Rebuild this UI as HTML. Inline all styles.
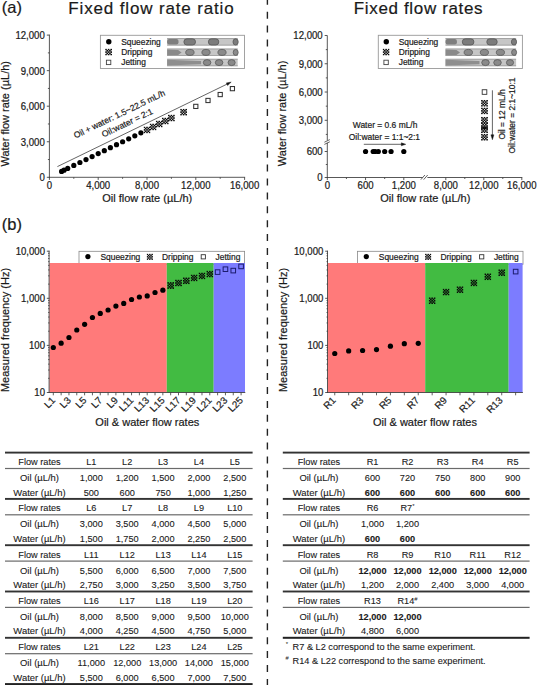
<!DOCTYPE html>
<html><head><meta charset="utf-8"><style>
html,body{margin:0;padding:0;background:#fff;}
body{width:537px;height:685px;overflow:hidden;}
svg{display:block;}
text{stroke:#1a1a1a;stroke-width:0.2px;}
.big{stroke-width:0.2px;}
.tb{stroke-width:0.1px;}
</style></head><body>
<svg width="537" height="685" viewBox="0 0 537 685" font-family='"Liberation Sans", sans-serif'>
<defs>
<symbol id="drip" viewBox="-0.2 -0.2 5.4 5.4"><g fill="#0a0a0a"><rect x="-0.12" y="-0.12" width="1.24" height="1.24"/><rect x="-0.12" y="1.88" width="1.24" height="1.24"/><rect x="-0.12" y="3.88" width="1.24" height="1.24"/><rect x="0.88" y="0.88" width="1.24" height="1.24"/><rect x="0.88" y="2.88" width="1.24" height="1.24"/><rect x="1.88" y="-0.12" width="1.24" height="1.24"/><rect x="1.88" y="1.88" width="1.24" height="1.24"/><rect x="1.88" y="3.88" width="1.24" height="1.24"/><rect x="2.88" y="0.88" width="1.24" height="1.24"/><rect x="2.88" y="2.88" width="1.24" height="1.24"/><rect x="3.88" y="-0.12" width="1.24" height="1.24"/><rect x="3.88" y="1.88" width="1.24" height="1.24"/><rect x="3.88" y="3.88" width="1.24" height="1.24"/></g></symbol>
</defs>
<rect width="537" height="685" fill="#fff"/>
<line x1="267.4" y1="-2.2" x2="267.4" y2="685" stroke="#222" stroke-width="1.4" stroke-dasharray="7 6.9"/>
<text x="1.80" y="13.30" font-size="16.5" text-anchor="start" fill="#1a1a1a" class="big">(a)</text>
<text x="1.80" y="230.30" font-size="16.5" text-anchor="start" fill="#1a1a1a" class="big">(b)</text>
<text x="68.30" y="14.20" font-size="17" text-anchor="start" fill="#1a1a1a" letter-spacing="0.85" class="big">Fixed flow rate ratio</text>
<text x="353.80" y="14.20" font-size="17" text-anchor="start" fill="#1a1a1a" letter-spacing="0.65" class="big">Fixed flow rates</text>
<line x1="49.40" y1="177.80" x2="49.40" y2="34.60" stroke="#3a3a3a" stroke-width="0.85"/>
<line x1="48.90" y1="177.30" x2="245.10" y2="177.30" stroke="#3a3a3a" stroke-width="0.85"/>
<line x1="46.80" y1="177.30" x2="49.40" y2="177.30" stroke="#3a3a3a" stroke-width="0.85"/>
<text x="0" y="0" font-size="9.6" text-anchor="end" fill="#1a1a1a" transform="translate(44.80 181.15) scale(1 1.07)">0</text>
<line x1="46.80" y1="141.75" x2="49.40" y2="141.75" stroke="#3a3a3a" stroke-width="0.85"/>
<text x="0" y="0" font-size="9.6" text-anchor="end" fill="#1a1a1a" transform="translate(44.80 145.60) scale(1 1.07)">3,000</text>
<line x1="46.80" y1="106.20" x2="49.40" y2="106.20" stroke="#3a3a3a" stroke-width="0.85"/>
<text x="0" y="0" font-size="9.6" text-anchor="end" fill="#1a1a1a" transform="translate(44.80 110.05) scale(1 1.07)">6,000</text>
<line x1="46.80" y1="70.65" x2="49.40" y2="70.65" stroke="#3a3a3a" stroke-width="0.85"/>
<text x="0" y="0" font-size="9.6" text-anchor="end" fill="#1a1a1a" transform="translate(44.80 74.50) scale(1 1.07)">9,000</text>
<line x1="46.80" y1="35.10" x2="49.40" y2="35.10" stroke="#3a3a3a" stroke-width="0.85"/>
<text x="0" y="0" font-size="9.6" text-anchor="end" fill="#1a1a1a" transform="translate(44.80 38.95) scale(1 1.07)">12,000</text>
<line x1="47.90" y1="159.53" x2="49.40" y2="159.53" stroke="#3a3a3a" stroke-width="0.85"/>
<line x1="47.90" y1="123.98" x2="49.40" y2="123.98" stroke="#3a3a3a" stroke-width="0.85"/>
<line x1="47.90" y1="88.43" x2="49.40" y2="88.43" stroke="#3a3a3a" stroke-width="0.85"/>
<line x1="47.90" y1="52.88" x2="49.40" y2="52.88" stroke="#3a3a3a" stroke-width="0.85"/>
<line x1="49.40" y1="177.30" x2="49.40" y2="179.90" stroke="#3a3a3a" stroke-width="0.85"/>
<text x="0" y="0" font-size="9.6" text-anchor="middle" fill="#1a1a1a" transform="translate(49.40 189.40) scale(1 1.07)">0</text>
<line x1="98.20" y1="177.30" x2="98.20" y2="179.90" stroke="#3a3a3a" stroke-width="0.85"/>
<text x="0" y="0" font-size="9.6" text-anchor="middle" fill="#1a1a1a" transform="translate(98.20 189.40) scale(1 1.07)">4,000</text>
<line x1="147.00" y1="177.30" x2="147.00" y2="179.90" stroke="#3a3a3a" stroke-width="0.85"/>
<text x="0" y="0" font-size="9.6" text-anchor="middle" fill="#1a1a1a" transform="translate(147.00 189.40) scale(1 1.07)">8,000</text>
<line x1="195.80" y1="177.30" x2="195.80" y2="179.90" stroke="#3a3a3a" stroke-width="0.85"/>
<text x="0" y="0" font-size="9.6" text-anchor="middle" fill="#1a1a1a" transform="translate(195.80 189.40) scale(1 1.07)">12,000</text>
<line x1="244.60" y1="177.30" x2="244.60" y2="179.90" stroke="#3a3a3a" stroke-width="0.85"/>
<text x="0" y="0" font-size="9.6" text-anchor="middle" fill="#1a1a1a" transform="translate(244.60 189.40) scale(1 1.07)">16,000</text>
<line x1="73.80" y1="177.30" x2="73.80" y2="178.80" stroke="#3a3a3a" stroke-width="0.85"/>
<line x1="122.60" y1="177.30" x2="122.60" y2="178.80" stroke="#3a3a3a" stroke-width="0.85"/>
<line x1="171.40" y1="177.30" x2="171.40" y2="178.80" stroke="#3a3a3a" stroke-width="0.85"/>
<line x1="220.20" y1="177.30" x2="220.20" y2="178.80" stroke="#3a3a3a" stroke-width="0.85"/>
<text x="147.20" y="202.00" font-size="11" text-anchor="middle" fill="#1a1a1a" >Oil flow rate (µL/h)</text>
<text x="8.70" y="113.80" font-size="11" text-anchor="middle" fill="#1a1a1a" transform="rotate(-90 8.7 113.8)">Water flow rate (µL/h)</text>
<line x1="57.4" y1="166.6" x2="227.5" y2="83.9" stroke="#222" stroke-width="0.7"/>
<path d="M231.2 82.1 L227.6 85.6 L226.3 82.9 Z" fill="#111" stroke="#111" stroke-width="0.4"/>
<text x="75.5" y="138.6" font-size="8.5" fill="#1a1a1a" transform="rotate(-25.8 75.5 138.6)">Oil + water: 1.5~22.5 mL/h</text>
<text x="103.5" y="137.6" font-size="8.6" fill="#1a1a1a" transform="rotate(-25.8 103.5 137.6)">Oil:water = 2:1</text>
<circle cx="61.60" cy="171.38" r="2.6" fill="#000"/>
<circle cx="64.04" cy="170.19" r="2.6" fill="#000"/>
<circle cx="67.70" cy="168.41" r="2.6" fill="#000"/>
<circle cx="73.80" cy="165.45" r="2.6" fill="#000"/>
<circle cx="79.90" cy="162.49" r="2.6" fill="#000"/>
<circle cx="86.00" cy="159.53" r="2.6" fill="#000"/>
<circle cx="92.10" cy="156.56" r="2.6" fill="#000"/>
<circle cx="98.20" cy="153.60" r="2.6" fill="#000"/>
<circle cx="104.30" cy="150.64" r="2.6" fill="#000"/>
<circle cx="110.40" cy="147.68" r="2.6" fill="#000"/>
<circle cx="116.50" cy="144.71" r="2.6" fill="#000"/>
<circle cx="122.60" cy="141.75" r="2.6" fill="#000"/>
<circle cx="128.70" cy="138.79" r="2.6" fill="#000"/>
<circle cx="134.80" cy="135.83" r="2.6" fill="#000"/>
<circle cx="140.90" cy="132.86" r="2.6" fill="#000"/>
<use href="#drip" x="143.50" y="126.40" width="7.0" height="7.0"/>
<use href="#drip" x="149.60" y="123.44" width="7.0" height="7.0"/>
<use href="#drip" x="155.70" y="120.48" width="7.0" height="7.0"/>
<use href="#drip" x="161.80" y="117.51" width="7.0" height="7.0"/>
<use href="#drip" x="167.90" y="114.55" width="7.0" height="7.0"/>
<use href="#drip" x="180.10" y="108.63" width="7.0" height="7.0"/>
<rect x="193.70" y="104.30" width="4.2" height="4.2" fill="none" stroke="#333" stroke-width="1.05"/>
<rect x="205.90" y="98.38" width="4.2" height="4.2" fill="none" stroke="#333" stroke-width="1.05"/>
<rect x="218.10" y="92.45" width="4.2" height="4.2" fill="none" stroke="#333" stroke-width="1.05"/>
<rect x="230.30" y="86.53" width="4.2" height="4.2" fill="none" stroke="#333" stroke-width="1.05"/>
<rect x="100.40" y="35.3" width="144.1" height="33.2" fill="#fff" stroke="#999" stroke-width="0.9"/>
<circle cx="108.80" cy="41.70" r="2.7" fill="#000"/>
<use href="#drip" x="105.10" y="48.60" width="7.0" height="7.0"/>
<rect x="106.40" y="60.20" width="4.4" height="4.4" fill="none" stroke="#444" stroke-width="0.9"/>
<text x="121.20" y="44.50" font-size="8.4" text-anchor="start" fill="#1a1a1a" >Squeezing</text>
<text x="121.20" y="54.50" font-size="8.4" text-anchor="start" fill="#1a1a1a" >Dripping</text>
<text x="121.20" y="64.50" font-size="8.4" text-anchor="start" fill="#1a1a1a" >Jetting</text>
<rect x="167.10" y="38.1" width="70.6" height="7.4" fill="#c6c6c6"/>
<rect x="167.10" y="38.1" width="70.6" height="0.8" fill="#9a9a9a"/>
<rect x="167.10" y="44.7" width="70.6" height="0.8" fill="#9a9a9a"/>
<rect x="167.10" y="39.1" width="11.4" height="5.4" rx="2" fill="#7e7e7e"/>
<rect x="183.90" y="38.80" width="11.60" height="6.2" rx="3" ry="3" fill="#7c7c7c" stroke="#555" stroke-width="0.8"/>
<rect x="208.40" y="38.80" width="10.40" height="6.2" rx="3" ry="3" fill="#7c7c7c" stroke="#555" stroke-width="0.8"/>
<rect x="233.00" y="38.80" width="5.20" height="6.2" rx="3" ry="3" fill="#7c7c7c" stroke="#555" stroke-width="0.8"/>
<rect x="167.10" y="48.6" width="70.6" height="7.4" fill="#c6c6c6"/>
<rect x="167.10" y="48.6" width="70.6" height="0.8" fill="#9a9a9a"/>
<rect x="167.10" y="55.2" width="70.6" height="0.8" fill="#9a9a9a"/>
<path d="M167.10 49.6 L178.10 49.9 L181.60 52.4 L178.10 54.9 L167.10 55.2 Z" fill="#8a8a8a"/>
<ellipse cx="189.90" cy="52.40" rx="4.2" ry="3.0" fill="#8a8a8a" stroke="#585858" stroke-width="0.8"/>
<ellipse cx="206.00" cy="52.40" rx="4.1" ry="3.0" fill="#8a8a8a" stroke="#585858" stroke-width="0.8"/>
<ellipse cx="222.00" cy="52.40" rx="4.1" ry="3.0" fill="#8a8a8a" stroke="#585858" stroke-width="0.8"/>
<ellipse cx="235.70" cy="52.40" rx="2.5" ry="3.0" fill="#8a8a8a" stroke="#585858" stroke-width="0.8"/>
<rect x="167.10" y="58.8" width="70.6" height="7.4" fill="#c6c6c6"/>
<rect x="167.10" y="58.8" width="70.6" height="0.8" fill="#9a9a9a"/>
<rect x="167.10" y="65.39999999999999" width="70.6" height="0.8" fill="#9a9a9a"/>
<path d="M167.10 59.8 L187.10 60.4 L201.10 61.0 L201.10 64.2 L187.10 64.8 L167.10 65.39999999999999 Z" fill="#8e8e8e"/>
<ellipse cx="207.10" cy="62.60" rx="3.8" ry="3.0" fill="#8a8a8a" stroke="#585858" stroke-width="0.8"/>
<ellipse cx="219.10" cy="62.60" rx="3.8" ry="3.0" fill="#8a8a8a" stroke="#585858" stroke-width="0.8"/>
<ellipse cx="231.60" cy="62.60" rx="3.6" ry="3.0" fill="#8a8a8a" stroke="#585858" stroke-width="0.8"/>
<rect x="378.30" y="35.3" width="144.1" height="33.2" fill="#fff" stroke="#999" stroke-width="0.9"/>
<circle cx="386.30" cy="41.70" r="2.7" fill="#000"/>
<use href="#drip" x="382.60" y="48.60" width="7.0" height="7.0"/>
<rect x="383.90" y="60.20" width="4.4" height="4.4" fill="none" stroke="#444" stroke-width="0.9"/>
<text x="398.70" y="44.50" font-size="8.4" text-anchor="start" fill="#1a1a1a" >Squeezing</text>
<text x="398.70" y="54.50" font-size="8.4" text-anchor="start" fill="#1a1a1a" >Dripping</text>
<text x="398.70" y="64.50" font-size="8.4" text-anchor="start" fill="#1a1a1a" >Jetting</text>
<rect x="445.50" y="38.1" width="70.6" height="7.4" fill="#c6c6c6"/>
<rect x="445.50" y="38.1" width="70.6" height="0.8" fill="#9a9a9a"/>
<rect x="445.50" y="44.7" width="70.6" height="0.8" fill="#9a9a9a"/>
<rect x="445.50" y="39.1" width="11.4" height="5.4" rx="2" fill="#7e7e7e"/>
<rect x="462.30" y="38.80" width="11.60" height="6.2" rx="3" ry="3" fill="#7c7c7c" stroke="#555" stroke-width="0.8"/>
<rect x="486.80" y="38.80" width="10.40" height="6.2" rx="3" ry="3" fill="#7c7c7c" stroke="#555" stroke-width="0.8"/>
<rect x="511.40" y="38.80" width="5.20" height="6.2" rx="3" ry="3" fill="#7c7c7c" stroke="#555" stroke-width="0.8"/>
<rect x="445.50" y="48.6" width="70.6" height="7.4" fill="#c6c6c6"/>
<rect x="445.50" y="48.6" width="70.6" height="0.8" fill="#9a9a9a"/>
<rect x="445.50" y="55.2" width="70.6" height="0.8" fill="#9a9a9a"/>
<path d="M445.50 49.6 L456.50 49.9 L460.00 52.4 L456.50 54.9 L445.50 55.2 Z" fill="#8a8a8a"/>
<ellipse cx="468.30" cy="52.40" rx="4.2" ry="3.0" fill="#8a8a8a" stroke="#585858" stroke-width="0.8"/>
<ellipse cx="484.40" cy="52.40" rx="4.1" ry="3.0" fill="#8a8a8a" stroke="#585858" stroke-width="0.8"/>
<ellipse cx="500.40" cy="52.40" rx="4.1" ry="3.0" fill="#8a8a8a" stroke="#585858" stroke-width="0.8"/>
<ellipse cx="514.10" cy="52.40" rx="2.5" ry="3.0" fill="#8a8a8a" stroke="#585858" stroke-width="0.8"/>
<rect x="445.50" y="58.8" width="70.6" height="7.4" fill="#c6c6c6"/>
<rect x="445.50" y="58.8" width="70.6" height="0.8" fill="#9a9a9a"/>
<rect x="445.50" y="65.39999999999999" width="70.6" height="0.8" fill="#9a9a9a"/>
<path d="M445.50 59.8 L465.50 60.4 L479.50 61.0 L479.50 64.2 L465.50 64.8 L445.50 65.39999999999999 Z" fill="#8e8e8e"/>
<ellipse cx="485.50" cy="62.60" rx="3.8" ry="3.0" fill="#8a8a8a" stroke="#585858" stroke-width="0.8"/>
<ellipse cx="497.50" cy="62.60" rx="3.8" ry="3.0" fill="#8a8a8a" stroke="#585858" stroke-width="0.8"/>
<ellipse cx="510.00" cy="62.60" rx="3.6" ry="3.0" fill="#8a8a8a" stroke="#585858" stroke-width="0.8"/>
<line x1="327.30" y1="178.00" x2="327.30" y2="142.80" stroke="#3a3a3a" stroke-width="0.85"/>
<line x1="327.30" y1="140.40" x2="327.30" y2="35.50" stroke="#3a3a3a" stroke-width="0.85"/>
<line x1="324.40" y1="142.20" x2="329.80" y2="139.60" stroke="#3a3a3a" stroke-width="0.8"/>
<line x1="324.40" y1="144.40" x2="329.80" y2="141.80" stroke="#3a3a3a" stroke-width="0.8"/>
<line x1="324.70" y1="177.50" x2="327.30" y2="177.50" stroke="#3a3a3a" stroke-width="0.85"/>
<text x="0" y="0" font-size="9.6" text-anchor="end" fill="#1a1a1a" transform="translate(322.70 181.35) scale(1 1.07)">0</text>
<line x1="324.70" y1="151.50" x2="327.30" y2="151.50" stroke="#3a3a3a" stroke-width="0.85"/>
<text x="0" y="0" font-size="9.6" text-anchor="end" fill="#1a1a1a" transform="translate(322.70 155.35) scale(1 1.07)">600</text>
<line x1="324.70" y1="120.30" x2="327.30" y2="120.30" stroke="#3a3a3a" stroke-width="0.85"/>
<text x="0" y="0" font-size="9.6" text-anchor="end" fill="#1a1a1a" transform="translate(322.70 124.15) scale(1 1.07)">3,000</text>
<line x1="324.70" y1="92.03" x2="327.30" y2="92.03" stroke="#3a3a3a" stroke-width="0.85"/>
<text x="0" y="0" font-size="9.6" text-anchor="end" fill="#1a1a1a" transform="translate(322.70 95.88) scale(1 1.07)">6,000</text>
<line x1="324.70" y1="63.76" x2="327.30" y2="63.76" stroke="#3a3a3a" stroke-width="0.85"/>
<text x="0" y="0" font-size="9.6" text-anchor="end" fill="#1a1a1a" transform="translate(322.70 67.61) scale(1 1.07)">9,000</text>
<line x1="324.70" y1="35.49" x2="327.30" y2="35.49" stroke="#3a3a3a" stroke-width="0.85"/>
<text x="0" y="0" font-size="9.6" text-anchor="end" fill="#1a1a1a" transform="translate(322.70 39.34) scale(1 1.07)">12,000</text>
<line x1="325.80" y1="164.50" x2="327.30" y2="164.50" stroke="#3a3a3a" stroke-width="0.85"/>
<line x1="325.80" y1="134.43" x2="327.30" y2="134.43" stroke="#3a3a3a" stroke-width="0.85"/>
<line x1="325.80" y1="106.17" x2="327.30" y2="106.17" stroke="#3a3a3a" stroke-width="0.85"/>
<line x1="325.80" y1="77.90" x2="327.30" y2="77.90" stroke="#3a3a3a" stroke-width="0.85"/>
<line x1="325.80" y1="49.63" x2="327.30" y2="49.63" stroke="#3a3a3a" stroke-width="0.85"/>
<line x1="326.80" y1="177.50" x2="422.60" y2="177.50" stroke="#3a3a3a" stroke-width="0.85"/>
<line x1="427.40" y1="177.50" x2="522.30" y2="177.50" stroke="#3a3a3a" stroke-width="0.85"/>
<line x1="420.90" y1="179.60" x2="424.90" y2="175.00" stroke="#3a3a3a" stroke-width="0.8"/>
<line x1="423.70" y1="179.60" x2="427.70" y2="175.00" stroke="#3a3a3a" stroke-width="0.8"/>
<line x1="327.30" y1="177.50" x2="327.30" y2="180.10" stroke="#3a3a3a" stroke-width="0.85"/>
<text x="0" y="0" font-size="9.6" text-anchor="middle" fill="#1a1a1a" transform="translate(327.30 189.40) scale(1 1.07)">0</text>
<line x1="365.55" y1="177.50" x2="365.55" y2="180.10" stroke="#3a3a3a" stroke-width="0.85"/>
<text x="0" y="0" font-size="9.6" text-anchor="middle" fill="#1a1a1a" transform="translate(365.55 189.40) scale(1 1.07)">600</text>
<line x1="403.80" y1="177.50" x2="403.80" y2="180.10" stroke="#3a3a3a" stroke-width="0.85"/>
<text x="0" y="0" font-size="9.6" text-anchor="middle" fill="#1a1a1a" transform="translate(403.80 189.40) scale(1 1.07)">1,200</text>
<line x1="445.80" y1="177.50" x2="445.80" y2="180.10" stroke="#3a3a3a" stroke-width="0.85"/>
<text x="0" y="0" font-size="9.6" text-anchor="middle" fill="#1a1a1a" transform="translate(445.80 189.40) scale(1 1.07)">8,000</text>
<line x1="483.80" y1="177.50" x2="483.80" y2="180.10" stroke="#3a3a3a" stroke-width="0.85"/>
<text x="0" y="0" font-size="9.6" text-anchor="middle" fill="#1a1a1a" transform="translate(483.80 189.40) scale(1 1.07)">12,000</text>
<line x1="521.80" y1="177.50" x2="521.80" y2="180.10" stroke="#3a3a3a" stroke-width="0.85"/>
<text x="0" y="0" font-size="9.6" text-anchor="middle" fill="#1a1a1a" transform="translate(521.80 189.40) scale(1 1.07)">16,000</text>
<line x1="346.43" y1="177.50" x2="346.43" y2="179.00" stroke="#3a3a3a" stroke-width="0.85"/>
<line x1="384.68" y1="177.50" x2="384.68" y2="179.00" stroke="#3a3a3a" stroke-width="0.85"/>
<line x1="464.80" y1="177.50" x2="464.80" y2="179.00" stroke="#3a3a3a" stroke-width="0.85"/>
<line x1="502.80" y1="177.50" x2="502.80" y2="179.00" stroke="#3a3a3a" stroke-width="0.85"/>
<text x="425.30" y="202.00" font-size="11" text-anchor="middle" fill="#1a1a1a" >Oil flow rate (µL/h)</text>
<text x="286.00" y="113.40" font-size="11" text-anchor="middle" fill="#1a1a1a" transform="rotate(-90 286.0 113.4)">Water flow rate (µL/h)</text>
<circle cx="365.55" cy="151.50" r="2.6" fill="#000"/>
<circle cx="373.20" cy="151.50" r="2.6" fill="#000"/>
<circle cx="375.11" cy="151.50" r="2.6" fill="#000"/>
<circle cx="378.30" cy="151.50" r="2.6" fill="#000"/>
<circle cx="384.68" cy="151.50" r="2.6" fill="#000"/>
<circle cx="391.05" cy="151.50" r="2.6" fill="#000"/>
<circle cx="403.80" cy="151.50" r="2.6" fill="#000"/>
<use href="#drip" x="481.00" y="133.76" width="7.0" height="7.0"/>
<use href="#drip" x="481.00" y="126.22" width="7.0" height="7.0"/>
<use href="#drip" x="481.00" y="122.45" width="7.0" height="7.0"/>
<use href="#drip" x="481.00" y="116.80" width="7.0" height="7.0"/>
<use href="#drip" x="481.00" y="107.38" width="7.0" height="7.0"/>
<use href="#drip" x="481.00" y="99.84" width="7.0" height="7.0"/>
<rect x="482.20" y="89.73" width="4.6" height="4.6" fill="none" stroke="#333" stroke-width="0.9"/>
<text x="385.10" y="127.60" font-size="8.45" text-anchor="middle" fill="#1a1a1a" >Water = 0.6 mL/h</text>
<text x="384.40" y="139.60" font-size="8.45" text-anchor="middle" fill="#1a1a1a" >Oil:water = 1:1~2:1</text>
<line x1="363.80" y1="144.30" x2="402.50" y2="144.30" stroke="#222" stroke-width="0.7"/>
<path d="M405.8 144.3 L401.3 142.8 L401.3 145.8 Z" fill="#111" stroke="#111" stroke-width="0.4"/>
<line x1="492.40" y1="90.30" x2="492.40" y2="136.00" stroke="#222" stroke-width="0.7"/>
<path d="M492.4 139.8 L490.9 134.8 L493.9 134.8 Z" fill="#111" stroke="#111" stroke-width="0.4"/>
<text x="504.7" y="114.4" font-size="8.45" text-anchor="middle" fill="#1a1a1a" transform="rotate(-90 504.7 114.4)">Oil = 12 mL/h</text>
<text x="514.9" y="115.5" font-size="8.45" text-anchor="middle" fill="#1a1a1a" transform="rotate(-90 514.9 115.5)">Oil:water = 2:1~10:1</text>
<rect x="79.00" y="251.3" width="165.6" height="13" fill="#fff" stroke="#888" stroke-width="0.8"/>
<rect x="49.40" y="263.0" width="117.36" height="129.50" fill="#ff7a7a"/>
<rect x="166.76" y="263.0" width="46.94" height="129.50" fill="#42bb42"/>
<rect x="213.70" y="263.0" width="31.30" height="129.50" fill="#7c7cff"/>
<circle cx="87.90" cy="256.60" r="2.6" fill="#000"/>
<text x="100.40" y="259.60" font-size="8.45" text-anchor="start" fill="#1a1a1a" >Squeezing</text>
<use href="#drip" x="146.60" y="253.60" width="6.4" height="6.4"/>
<text x="162.00" y="259.60" font-size="8.45" text-anchor="start" fill="#1a1a1a" >Dripping</text>
<rect x="201.20" y="254.70" width="4.2" height="4.2" fill="none" stroke="#333" stroke-width="0.9"/>
<text x="215.50" y="259.60" font-size="8.45" text-anchor="start" fill="#1a1a1a" >Jetting</text>
<line x1="49.10" y1="393.00" x2="49.10" y2="250.70" stroke="#3a3a3a" stroke-width="0.85"/>
<line x1="48.60" y1="392.50" x2="245.30" y2="392.50" stroke="#3a3a3a" stroke-width="0.85"/>
<line x1="46.80" y1="392.50" x2="49.40" y2="392.50" stroke="#3a3a3a" stroke-width="0.85"/>
<text x="45.00" y="0" font-size="9.6" text-anchor="end" fill="#1a1a1a" transform="translate(0 396.35) scale(1 1.13)">10</text>
<line x1="46.80" y1="345.40" x2="49.40" y2="345.40" stroke="#3a3a3a" stroke-width="0.85"/>
<text x="45.00" y="0" font-size="9.6" text-anchor="end" fill="#1a1a1a" transform="translate(0 349.25) scale(1 1.13)">100</text>
<line x1="46.80" y1="298.30" x2="49.40" y2="298.30" stroke="#3a3a3a" stroke-width="0.85"/>
<text x="45.00" y="0" font-size="9.6" text-anchor="end" fill="#1a1a1a" transform="translate(0 302.15) scale(1 1.13)">1,000</text>
<line x1="46.80" y1="251.20" x2="49.40" y2="251.20" stroke="#3a3a3a" stroke-width="0.85"/>
<text x="45.00" y="0" font-size="9.6" text-anchor="end" fill="#1a1a1a" transform="translate(0 255.05) scale(1 1.13)">10,000</text>
<line x1="48.10" y1="378.32" x2="49.40" y2="378.32" stroke="#3a3a3a" stroke-width="0.8"/>
<line x1="48.10" y1="370.03" x2="49.40" y2="370.03" stroke="#3a3a3a" stroke-width="0.8"/>
<line x1="48.10" y1="364.14" x2="49.40" y2="364.14" stroke="#3a3a3a" stroke-width="0.8"/>
<line x1="48.10" y1="359.58" x2="49.40" y2="359.58" stroke="#3a3a3a" stroke-width="0.8"/>
<line x1="48.10" y1="355.85" x2="49.40" y2="355.85" stroke="#3a3a3a" stroke-width="0.8"/>
<line x1="48.10" y1="352.70" x2="49.40" y2="352.70" stroke="#3a3a3a" stroke-width="0.8"/>
<line x1="48.10" y1="349.96" x2="49.40" y2="349.96" stroke="#3a3a3a" stroke-width="0.8"/>
<line x1="48.10" y1="347.56" x2="49.40" y2="347.56" stroke="#3a3a3a" stroke-width="0.8"/>
<line x1="48.10" y1="331.22" x2="49.40" y2="331.22" stroke="#3a3a3a" stroke-width="0.8"/>
<line x1="48.10" y1="322.93" x2="49.40" y2="322.93" stroke="#3a3a3a" stroke-width="0.8"/>
<line x1="48.10" y1="317.04" x2="49.40" y2="317.04" stroke="#3a3a3a" stroke-width="0.8"/>
<line x1="48.10" y1="312.48" x2="49.40" y2="312.48" stroke="#3a3a3a" stroke-width="0.8"/>
<line x1="48.10" y1="308.75" x2="49.40" y2="308.75" stroke="#3a3a3a" stroke-width="0.8"/>
<line x1="48.10" y1="305.60" x2="49.40" y2="305.60" stroke="#3a3a3a" stroke-width="0.8"/>
<line x1="48.10" y1="302.86" x2="49.40" y2="302.86" stroke="#3a3a3a" stroke-width="0.8"/>
<line x1="48.10" y1="300.46" x2="49.40" y2="300.46" stroke="#3a3a3a" stroke-width="0.8"/>
<line x1="48.10" y1="284.12" x2="49.40" y2="284.12" stroke="#3a3a3a" stroke-width="0.8"/>
<line x1="48.10" y1="275.83" x2="49.40" y2="275.83" stroke="#3a3a3a" stroke-width="0.8"/>
<line x1="48.10" y1="269.94" x2="49.40" y2="269.94" stroke="#3a3a3a" stroke-width="0.8"/>
<line x1="48.10" y1="265.38" x2="49.40" y2="265.38" stroke="#3a3a3a" stroke-width="0.8"/>
<line x1="48.10" y1="261.65" x2="49.40" y2="261.65" stroke="#3a3a3a" stroke-width="0.8"/>
<line x1="48.10" y1="258.50" x2="49.40" y2="258.50" stroke="#3a3a3a" stroke-width="0.8"/>
<line x1="48.10" y1="255.76" x2="49.40" y2="255.76" stroke="#3a3a3a" stroke-width="0.8"/>
<line x1="48.10" y1="253.36" x2="49.40" y2="253.36" stroke="#3a3a3a" stroke-width="0.8"/>
<line x1="53.31" y1="392.50" x2="53.31" y2="395.30" stroke="#3a3a3a" stroke-width="0.8"/>
<line x1="61.14" y1="392.50" x2="61.14" y2="395.30" stroke="#3a3a3a" stroke-width="0.8"/>
<line x1="68.96" y1="392.50" x2="68.96" y2="395.30" stroke="#3a3a3a" stroke-width="0.8"/>
<line x1="76.78" y1="392.50" x2="76.78" y2="395.30" stroke="#3a3a3a" stroke-width="0.8"/>
<line x1="84.61" y1="392.50" x2="84.61" y2="395.30" stroke="#3a3a3a" stroke-width="0.8"/>
<line x1="92.43" y1="392.50" x2="92.43" y2="395.30" stroke="#3a3a3a" stroke-width="0.8"/>
<line x1="100.26" y1="392.50" x2="100.26" y2="395.30" stroke="#3a3a3a" stroke-width="0.8"/>
<line x1="108.08" y1="392.50" x2="108.08" y2="395.30" stroke="#3a3a3a" stroke-width="0.8"/>
<line x1="115.90" y1="392.50" x2="115.90" y2="395.30" stroke="#3a3a3a" stroke-width="0.8"/>
<line x1="123.73" y1="392.50" x2="123.73" y2="395.30" stroke="#3a3a3a" stroke-width="0.8"/>
<line x1="131.55" y1="392.50" x2="131.55" y2="395.30" stroke="#3a3a3a" stroke-width="0.8"/>
<line x1="139.38" y1="392.50" x2="139.38" y2="395.30" stroke="#3a3a3a" stroke-width="0.8"/>
<line x1="147.20" y1="392.50" x2="147.20" y2="395.30" stroke="#3a3a3a" stroke-width="0.8"/>
<line x1="155.02" y1="392.50" x2="155.02" y2="395.30" stroke="#3a3a3a" stroke-width="0.8"/>
<line x1="162.85" y1="392.50" x2="162.85" y2="395.30" stroke="#3a3a3a" stroke-width="0.8"/>
<line x1="170.67" y1="392.50" x2="170.67" y2="395.30" stroke="#3a3a3a" stroke-width="0.8"/>
<line x1="178.50" y1="392.50" x2="178.50" y2="395.30" stroke="#3a3a3a" stroke-width="0.8"/>
<line x1="186.32" y1="392.50" x2="186.32" y2="395.30" stroke="#3a3a3a" stroke-width="0.8"/>
<line x1="194.14" y1="392.50" x2="194.14" y2="395.30" stroke="#3a3a3a" stroke-width="0.8"/>
<line x1="201.97" y1="392.50" x2="201.97" y2="395.30" stroke="#3a3a3a" stroke-width="0.8"/>
<line x1="209.79" y1="392.50" x2="209.79" y2="395.30" stroke="#3a3a3a" stroke-width="0.8"/>
<line x1="217.62" y1="392.50" x2="217.62" y2="395.30" stroke="#3a3a3a" stroke-width="0.8"/>
<line x1="225.44" y1="392.50" x2="225.44" y2="395.30" stroke="#3a3a3a" stroke-width="0.8"/>
<line x1="233.26" y1="392.50" x2="233.26" y2="395.30" stroke="#3a3a3a" stroke-width="0.8"/>
<line x1="241.09" y1="392.50" x2="241.09" y2="395.30" stroke="#3a3a3a" stroke-width="0.8"/>
<text x="55.91" y="401.00" font-size="9.8" text-anchor="end" fill="#1a1a1a" transform="rotate(-45 55.91 401.00)">L1</text>
<text x="71.56" y="401.00" font-size="9.8" text-anchor="end" fill="#1a1a1a" transform="rotate(-45 71.56 401.00)">L3</text>
<text x="87.21" y="401.00" font-size="9.8" text-anchor="end" fill="#1a1a1a" transform="rotate(-45 87.21 401.00)">L5</text>
<text x="102.86" y="401.00" font-size="9.8" text-anchor="end" fill="#1a1a1a" transform="rotate(-45 102.86 401.00)">L7</text>
<text x="118.50" y="401.00" font-size="9.8" text-anchor="end" fill="#1a1a1a" transform="rotate(-45 118.50 401.00)">L9</text>
<text x="134.15" y="401.00" font-size="9.8" text-anchor="end" fill="#1a1a1a" transform="rotate(-45 134.15 401.00)">L11</text>
<text x="149.80" y="401.00" font-size="9.8" text-anchor="end" fill="#1a1a1a" transform="rotate(-45 149.80 401.00)">L13</text>
<text x="165.45" y="401.00" font-size="9.8" text-anchor="end" fill="#1a1a1a" transform="rotate(-45 165.45 401.00)">L15</text>
<text x="181.10" y="401.00" font-size="9.8" text-anchor="end" fill="#1a1a1a" transform="rotate(-45 181.10 401.00)">L17</text>
<text x="196.74" y="401.00" font-size="9.8" text-anchor="end" fill="#1a1a1a" transform="rotate(-45 196.74 401.00)">L19</text>
<text x="212.39" y="401.00" font-size="9.8" text-anchor="end" fill="#1a1a1a" transform="rotate(-45 212.39 401.00)">L21</text>
<text x="228.04" y="401.00" font-size="9.8" text-anchor="end" fill="#1a1a1a" transform="rotate(-45 228.04 401.00)">L23</text>
<text x="243.69" y="401.00" font-size="9.8" text-anchor="end" fill="#1a1a1a" transform="rotate(-45 243.69 401.00)">L25</text>
<text x="147.30" y="425.80" font-size="11" text-anchor="middle" fill="#1a1a1a" >Oil &amp; water flow rates</text>
<text x="8.70" y="330.00" font-size="11" text-anchor="middle" fill="#1a1a1a" transform="rotate(-90 8.7 330.0)">Measured frequency (Hz)</text>
<circle cx="53.31" cy="347.50" r="2.6" fill="#000"/>
<circle cx="61.14" cy="343.20" r="2.6" fill="#000"/>
<circle cx="68.96" cy="337.50" r="2.6" fill="#000"/>
<circle cx="76.78" cy="330.00" r="2.6" fill="#000"/>
<circle cx="84.61" cy="324.30" r="2.6" fill="#000"/>
<circle cx="92.43" cy="317.50" r="2.6" fill="#000"/>
<circle cx="100.26" cy="313.40" r="2.6" fill="#000"/>
<circle cx="108.08" cy="310.00" r="2.6" fill="#000"/>
<circle cx="115.90" cy="306.10" r="2.6" fill="#000"/>
<circle cx="123.73" cy="303.40" r="2.6" fill="#000"/>
<circle cx="131.55" cy="299.50" r="2.6" fill="#000"/>
<circle cx="139.38" cy="297.00" r="2.6" fill="#000"/>
<circle cx="147.20" cy="295.90" r="2.6" fill="#000"/>
<circle cx="155.02" cy="292.50" r="2.6" fill="#000"/>
<circle cx="162.85" cy="290.20" r="2.6" fill="#000"/>
<use href="#drip" x="167.17" y="282.00" width="7.0" height="7.0"/>
<use href="#drip" x="175.00" y="279.50" width="7.0" height="7.0"/>
<use href="#drip" x="182.82" y="277.30" width="7.0" height="7.0"/>
<use href="#drip" x="190.64" y="274.40" width="7.0" height="7.0"/>
<use href="#drip" x="198.47" y="272.40" width="7.0" height="7.0"/>
<use href="#drip" x="206.29" y="270.60" width="7.0" height="7.0"/>
<rect x="215.32" y="269.80" width="4.6" height="4.6" fill="none" stroke="#1c1c6e" stroke-width="1.0"/>
<rect x="223.14" y="266.90" width="4.6" height="4.6" fill="none" stroke="#1c1c6e" stroke-width="1.0"/>
<rect x="230.96" y="268.30" width="4.6" height="4.6" fill="none" stroke="#1c1c6e" stroke-width="1.0"/>
<rect x="238.79" y="264.10" width="4.6" height="4.6" fill="none" stroke="#1c1c6e" stroke-width="1.0"/>
<rect x="357.40" y="251.3" width="165.6" height="13" fill="#fff" stroke="#888" stroke-width="0.8"/>
<rect x="327.80" y="263.0" width="97.40" height="129.50" fill="#ff7a7a"/>
<rect x="425.20" y="263.0" width="83.49" height="129.50" fill="#42bb42"/>
<rect x="508.69" y="263.0" width="13.91" height="129.50" fill="#7c7cff"/>
<circle cx="366.30" cy="256.60" r="2.6" fill="#000"/>
<text x="378.80" y="259.60" font-size="8.45" text-anchor="start" fill="#1a1a1a" >Squeezing</text>
<use href="#drip" x="425.00" y="253.60" width="6.4" height="6.4"/>
<text x="440.40" y="259.60" font-size="8.45" text-anchor="start" fill="#1a1a1a" >Dripping</text>
<rect x="479.60" y="254.70" width="4.2" height="4.2" fill="none" stroke="#333" stroke-width="0.9"/>
<text x="493.90" y="259.60" font-size="8.45" text-anchor="start" fill="#1a1a1a" >Jetting</text>
<line x1="327.50" y1="393.00" x2="327.50" y2="250.70" stroke="#3a3a3a" stroke-width="0.85"/>
<line x1="327.00" y1="392.50" x2="522.90" y2="392.50" stroke="#3a3a3a" stroke-width="0.85"/>
<line x1="325.20" y1="392.50" x2="327.80" y2="392.50" stroke="#3a3a3a" stroke-width="0.85"/>
<text x="323.40" y="0" font-size="9.6" text-anchor="end" fill="#1a1a1a" transform="translate(0 396.35) scale(1 1.13)">10</text>
<line x1="325.20" y1="345.40" x2="327.80" y2="345.40" stroke="#3a3a3a" stroke-width="0.85"/>
<text x="323.40" y="0" font-size="9.6" text-anchor="end" fill="#1a1a1a" transform="translate(0 349.25) scale(1 1.13)">100</text>
<line x1="325.20" y1="298.30" x2="327.80" y2="298.30" stroke="#3a3a3a" stroke-width="0.85"/>
<text x="323.40" y="0" font-size="9.6" text-anchor="end" fill="#1a1a1a" transform="translate(0 302.15) scale(1 1.13)">1,000</text>
<line x1="325.20" y1="251.20" x2="327.80" y2="251.20" stroke="#3a3a3a" stroke-width="0.85"/>
<text x="323.40" y="0" font-size="9.6" text-anchor="end" fill="#1a1a1a" transform="translate(0 255.05) scale(1 1.13)">10,000</text>
<line x1="326.50" y1="378.32" x2="327.80" y2="378.32" stroke="#3a3a3a" stroke-width="0.8"/>
<line x1="326.50" y1="370.03" x2="327.80" y2="370.03" stroke="#3a3a3a" stroke-width="0.8"/>
<line x1="326.50" y1="364.14" x2="327.80" y2="364.14" stroke="#3a3a3a" stroke-width="0.8"/>
<line x1="326.50" y1="359.58" x2="327.80" y2="359.58" stroke="#3a3a3a" stroke-width="0.8"/>
<line x1="326.50" y1="355.85" x2="327.80" y2="355.85" stroke="#3a3a3a" stroke-width="0.8"/>
<line x1="326.50" y1="352.70" x2="327.80" y2="352.70" stroke="#3a3a3a" stroke-width="0.8"/>
<line x1="326.50" y1="349.96" x2="327.80" y2="349.96" stroke="#3a3a3a" stroke-width="0.8"/>
<line x1="326.50" y1="347.56" x2="327.80" y2="347.56" stroke="#3a3a3a" stroke-width="0.8"/>
<line x1="326.50" y1="331.22" x2="327.80" y2="331.22" stroke="#3a3a3a" stroke-width="0.8"/>
<line x1="326.50" y1="322.93" x2="327.80" y2="322.93" stroke="#3a3a3a" stroke-width="0.8"/>
<line x1="326.50" y1="317.04" x2="327.80" y2="317.04" stroke="#3a3a3a" stroke-width="0.8"/>
<line x1="326.50" y1="312.48" x2="327.80" y2="312.48" stroke="#3a3a3a" stroke-width="0.8"/>
<line x1="326.50" y1="308.75" x2="327.80" y2="308.75" stroke="#3a3a3a" stroke-width="0.8"/>
<line x1="326.50" y1="305.60" x2="327.80" y2="305.60" stroke="#3a3a3a" stroke-width="0.8"/>
<line x1="326.50" y1="302.86" x2="327.80" y2="302.86" stroke="#3a3a3a" stroke-width="0.8"/>
<line x1="326.50" y1="300.46" x2="327.80" y2="300.46" stroke="#3a3a3a" stroke-width="0.8"/>
<line x1="326.50" y1="284.12" x2="327.80" y2="284.12" stroke="#3a3a3a" stroke-width="0.8"/>
<line x1="326.50" y1="275.83" x2="327.80" y2="275.83" stroke="#3a3a3a" stroke-width="0.8"/>
<line x1="326.50" y1="269.94" x2="327.80" y2="269.94" stroke="#3a3a3a" stroke-width="0.8"/>
<line x1="326.50" y1="265.38" x2="327.80" y2="265.38" stroke="#3a3a3a" stroke-width="0.8"/>
<line x1="326.50" y1="261.65" x2="327.80" y2="261.65" stroke="#3a3a3a" stroke-width="0.8"/>
<line x1="326.50" y1="258.50" x2="327.80" y2="258.50" stroke="#3a3a3a" stroke-width="0.8"/>
<line x1="326.50" y1="255.76" x2="327.80" y2="255.76" stroke="#3a3a3a" stroke-width="0.8"/>
<line x1="326.50" y1="253.36" x2="327.80" y2="253.36" stroke="#3a3a3a" stroke-width="0.8"/>
<line x1="334.76" y1="392.50" x2="334.76" y2="395.30" stroke="#3a3a3a" stroke-width="0.8"/>
<line x1="348.67" y1="392.50" x2="348.67" y2="395.30" stroke="#3a3a3a" stroke-width="0.8"/>
<line x1="362.59" y1="392.50" x2="362.59" y2="395.30" stroke="#3a3a3a" stroke-width="0.8"/>
<line x1="376.50" y1="392.50" x2="376.50" y2="395.30" stroke="#3a3a3a" stroke-width="0.8"/>
<line x1="390.41" y1="392.50" x2="390.41" y2="395.30" stroke="#3a3a3a" stroke-width="0.8"/>
<line x1="404.33" y1="392.50" x2="404.33" y2="395.30" stroke="#3a3a3a" stroke-width="0.8"/>
<line x1="418.24" y1="392.50" x2="418.24" y2="395.30" stroke="#3a3a3a" stroke-width="0.8"/>
<line x1="432.16" y1="392.50" x2="432.16" y2="395.30" stroke="#3a3a3a" stroke-width="0.8"/>
<line x1="446.07" y1="392.50" x2="446.07" y2="395.30" stroke="#3a3a3a" stroke-width="0.8"/>
<line x1="459.99" y1="392.50" x2="459.99" y2="395.30" stroke="#3a3a3a" stroke-width="0.8"/>
<line x1="473.90" y1="392.50" x2="473.90" y2="395.30" stroke="#3a3a3a" stroke-width="0.8"/>
<line x1="487.81" y1="392.50" x2="487.81" y2="395.30" stroke="#3a3a3a" stroke-width="0.8"/>
<line x1="501.73" y1="392.50" x2="501.73" y2="395.30" stroke="#3a3a3a" stroke-width="0.8"/>
<line x1="515.64" y1="392.50" x2="515.64" y2="395.30" stroke="#3a3a3a" stroke-width="0.8"/>
<text x="336.36" y="401.00" font-size="9.8" text-anchor="end" fill="#1a1a1a" transform="rotate(-45 336.36 401.00)">R1</text>
<text x="364.19" y="401.00" font-size="9.8" text-anchor="end" fill="#1a1a1a" transform="rotate(-45 364.19 401.00)">R3</text>
<text x="392.01" y="401.00" font-size="9.8" text-anchor="end" fill="#1a1a1a" transform="rotate(-45 392.01 401.00)">R5</text>
<text x="419.84" y="401.00" font-size="9.8" text-anchor="end" fill="#1a1a1a" transform="rotate(-45 419.84 401.00)">R7</text>
<text x="447.67" y="401.00" font-size="9.8" text-anchor="end" fill="#1a1a1a" transform="rotate(-45 447.67 401.00)">R9</text>
<text x="475.50" y="401.00" font-size="9.8" text-anchor="end" fill="#1a1a1a" transform="rotate(-45 475.50 401.00)">R11</text>
<text x="503.33" y="401.00" font-size="9.8" text-anchor="end" fill="#1a1a1a" transform="rotate(-45 503.33 401.00)">R13</text>
<text x="425.00" y="425.80" font-size="11" text-anchor="middle" fill="#1a1a1a" >Oil &amp; water flow rates</text>
<text x="287.30" y="330.00" font-size="11" text-anchor="middle" fill="#1a1a1a" transform="rotate(-90 287.3 330.0)">Measured frequency (Hz)</text>
<circle cx="334.76" cy="353.50" r="2.6" fill="#000"/>
<circle cx="348.67" cy="350.90" r="2.6" fill="#000"/>
<circle cx="362.59" cy="350.50" r="2.6" fill="#000"/>
<circle cx="376.50" cy="349.60" r="2.6" fill="#000"/>
<circle cx="390.41" cy="346.20" r="2.6" fill="#000"/>
<circle cx="404.33" cy="343.70" r="2.6" fill="#000"/>
<circle cx="418.24" cy="343.30" r="2.6" fill="#000"/>
<use href="#drip" x="428.66" y="297.20" width="7.0" height="7.0"/>
<use href="#drip" x="442.57" y="288.60" width="7.0" height="7.0"/>
<use href="#drip" x="456.49" y="286.20" width="7.0" height="7.0"/>
<use href="#drip" x="470.40" y="279.40" width="7.0" height="7.0"/>
<use href="#drip" x="484.31" y="273.30" width="7.0" height="7.0"/>
<use href="#drip" x="498.23" y="269.20" width="7.0" height="7.0"/>
<rect x="513.34" y="269.30" width="4.6" height="4.6" fill="none" stroke="#1c1c6e" stroke-width="1.0"/>
<rect x="5.0" y="451.65" width="247.6" height="1.9" fill="#333"/>
<rect x="5.0" y="467.90" width="247.6" height="1.2" fill="#6a6a6a"/>
<text x="39.50" y="465.10" font-size="9.2" text-anchor="middle" fill="#1a1a1a" class="tb" >Flow rates</text>
<text x="39.50" y="480.90" font-size="9.45" text-anchor="middle" fill="#1a1a1a" class="tb" >Oil (µL/h)</text>
<text x="39.50" y="495.50" font-size="9.45" text-anchor="middle" fill="#1a1a1a" class="tb" >Water (µL/h)</text>
<text x="91.30" y="465.10" font-size="9.2" text-anchor="middle" fill="#1a1a1a" class="tb" >L1</text>
<text x="127.20" y="465.10" font-size="9.2" text-anchor="middle" fill="#1a1a1a" class="tb" >L2</text>
<text x="163.10" y="465.10" font-size="9.2" text-anchor="middle" fill="#1a1a1a" class="tb" >L3</text>
<text x="198.90" y="465.10" font-size="9.2" text-anchor="middle" fill="#1a1a1a" class="tb" >L4</text>
<text x="234.80" y="465.10" font-size="9.2" text-anchor="middle" fill="#1a1a1a" class="tb" >L5</text>
<text x="91.30" y="480.90" font-size="9.2" text-anchor="middle" fill="#1a1a1a" class="tb" >1,000</text>
<text x="127.20" y="480.90" font-size="9.2" text-anchor="middle" fill="#1a1a1a" class="tb" >1,200</text>
<text x="163.10" y="480.90" font-size="9.2" text-anchor="middle" fill="#1a1a1a" class="tb" >1,500</text>
<text x="198.90" y="480.90" font-size="9.2" text-anchor="middle" fill="#1a1a1a" class="tb" >2,000</text>
<text x="234.80" y="480.90" font-size="9.2" text-anchor="middle" fill="#1a1a1a" class="tb" >2,500</text>
<text x="91.30" y="495.50" font-size="9.2" text-anchor="middle" fill="#1a1a1a" class="tb" >500</text>
<text x="127.20" y="495.50" font-size="9.2" text-anchor="middle" fill="#1a1a1a" class="tb" >600</text>
<text x="163.10" y="495.50" font-size="9.2" text-anchor="middle" fill="#1a1a1a" class="tb" >750</text>
<text x="198.90" y="495.50" font-size="9.2" text-anchor="middle" fill="#1a1a1a" class="tb" >1,000</text>
<text x="234.80" y="495.50" font-size="9.2" text-anchor="middle" fill="#1a1a1a" class="tb" >1,250</text>
<rect x="5.0" y="497.95" width="247.6" height="1.9" fill="#333"/>
<rect x="5.0" y="514.20" width="247.6" height="1.2" fill="#6a6a6a"/>
<text x="39.50" y="511.40" font-size="9.2" text-anchor="middle" fill="#1a1a1a" class="tb" >Flow rates</text>
<text x="39.50" y="527.20" font-size="9.45" text-anchor="middle" fill="#1a1a1a" class="tb" >Oil (µL/h)</text>
<text x="39.50" y="541.80" font-size="9.45" text-anchor="middle" fill="#1a1a1a" class="tb" >Water (µL/h)</text>
<text x="91.30" y="511.40" font-size="9.2" text-anchor="middle" fill="#1a1a1a" class="tb" >L6</text>
<text x="127.20" y="511.40" font-size="9.2" text-anchor="middle" fill="#1a1a1a" class="tb" >L7</text>
<text x="163.10" y="511.40" font-size="9.2" text-anchor="middle" fill="#1a1a1a" class="tb" >L8</text>
<text x="198.90" y="511.40" font-size="9.2" text-anchor="middle" fill="#1a1a1a" class="tb" >L9</text>
<text x="234.80" y="511.40" font-size="9.2" text-anchor="middle" fill="#1a1a1a" class="tb" >L10</text>
<text x="91.30" y="527.20" font-size="9.2" text-anchor="middle" fill="#1a1a1a" class="tb" >3,000</text>
<text x="127.20" y="527.20" font-size="9.2" text-anchor="middle" fill="#1a1a1a" class="tb" >3,500</text>
<text x="163.10" y="527.20" font-size="9.2" text-anchor="middle" fill="#1a1a1a" class="tb" >4,000</text>
<text x="198.90" y="527.20" font-size="9.2" text-anchor="middle" fill="#1a1a1a" class="tb" >4,500</text>
<text x="234.80" y="527.20" font-size="9.2" text-anchor="middle" fill="#1a1a1a" class="tb" >5,000</text>
<text x="91.30" y="541.80" font-size="9.2" text-anchor="middle" fill="#1a1a1a" class="tb" >1,500</text>
<text x="127.20" y="541.80" font-size="9.2" text-anchor="middle" fill="#1a1a1a" class="tb" >1,750</text>
<text x="163.10" y="541.80" font-size="9.2" text-anchor="middle" fill="#1a1a1a" class="tb" >2,000</text>
<text x="198.90" y="541.80" font-size="9.2" text-anchor="middle" fill="#1a1a1a" class="tb" >2,250</text>
<text x="234.80" y="541.80" font-size="9.2" text-anchor="middle" fill="#1a1a1a" class="tb" >2,500</text>
<rect x="5.0" y="544.25" width="247.6" height="1.9" fill="#333"/>
<rect x="5.0" y="560.50" width="247.6" height="1.2" fill="#6a6a6a"/>
<text x="39.50" y="557.70" font-size="9.2" text-anchor="middle" fill="#1a1a1a" class="tb" >Flow rates</text>
<text x="39.50" y="573.50" font-size="9.45" text-anchor="middle" fill="#1a1a1a" class="tb" >Oil (µL/h)</text>
<text x="39.50" y="588.10" font-size="9.45" text-anchor="middle" fill="#1a1a1a" class="tb" >Water (µL/h)</text>
<text x="91.30" y="557.70" font-size="9.2" text-anchor="middle" fill="#1a1a1a" class="tb" >L11</text>
<text x="127.20" y="557.70" font-size="9.2" text-anchor="middle" fill="#1a1a1a" class="tb" >L12</text>
<text x="163.10" y="557.70" font-size="9.2" text-anchor="middle" fill="#1a1a1a" class="tb" >L13</text>
<text x="198.90" y="557.70" font-size="9.2" text-anchor="middle" fill="#1a1a1a" class="tb" >L14</text>
<text x="234.80" y="557.70" font-size="9.2" text-anchor="middle" fill="#1a1a1a" class="tb" >L15</text>
<text x="91.30" y="573.50" font-size="9.2" text-anchor="middle" fill="#1a1a1a" class="tb" >5,500</text>
<text x="127.20" y="573.50" font-size="9.2" text-anchor="middle" fill="#1a1a1a" class="tb" >6,000</text>
<text x="163.10" y="573.50" font-size="9.2" text-anchor="middle" fill="#1a1a1a" class="tb" >6,500</text>
<text x="198.90" y="573.50" font-size="9.2" text-anchor="middle" fill="#1a1a1a" class="tb" >7,000</text>
<text x="234.80" y="573.50" font-size="9.2" text-anchor="middle" fill="#1a1a1a" class="tb" >7,500</text>
<text x="91.30" y="588.10" font-size="9.2" text-anchor="middle" fill="#1a1a1a" class="tb" >2,750</text>
<text x="127.20" y="588.10" font-size="9.2" text-anchor="middle" fill="#1a1a1a" class="tb" >3,000</text>
<text x="163.10" y="588.10" font-size="9.2" text-anchor="middle" fill="#1a1a1a" class="tb" >3,250</text>
<text x="198.90" y="588.10" font-size="9.2" text-anchor="middle" fill="#1a1a1a" class="tb" >3,500</text>
<text x="234.80" y="588.10" font-size="9.2" text-anchor="middle" fill="#1a1a1a" class="tb" >3,750</text>
<rect x="5.0" y="590.55" width="247.6" height="1.9" fill="#333"/>
<rect x="5.0" y="606.80" width="247.6" height="1.2" fill="#6a6a6a"/>
<text x="39.50" y="604.00" font-size="9.2" text-anchor="middle" fill="#1a1a1a" class="tb" >Flow rates</text>
<text x="39.50" y="619.80" font-size="9.45" text-anchor="middle" fill="#1a1a1a" class="tb" >Oil (µL/h)</text>
<text x="39.50" y="634.40" font-size="9.45" text-anchor="middle" fill="#1a1a1a" class="tb" >Water (µL/h)</text>
<text x="91.30" y="604.00" font-size="9.2" text-anchor="middle" fill="#1a1a1a" class="tb" >L16</text>
<text x="127.20" y="604.00" font-size="9.2" text-anchor="middle" fill="#1a1a1a" class="tb" >L17</text>
<text x="163.10" y="604.00" font-size="9.2" text-anchor="middle" fill="#1a1a1a" class="tb" >L18</text>
<text x="198.90" y="604.00" font-size="9.2" text-anchor="middle" fill="#1a1a1a" class="tb" >L19</text>
<text x="234.80" y="604.00" font-size="9.2" text-anchor="middle" fill="#1a1a1a" class="tb" >L20</text>
<text x="91.30" y="619.80" font-size="9.2" text-anchor="middle" fill="#1a1a1a" class="tb" >8,000</text>
<text x="127.20" y="619.80" font-size="9.2" text-anchor="middle" fill="#1a1a1a" class="tb" >8,500</text>
<text x="163.10" y="619.80" font-size="9.2" text-anchor="middle" fill="#1a1a1a" class="tb" >9,000</text>
<text x="198.90" y="619.80" font-size="9.2" text-anchor="middle" fill="#1a1a1a" class="tb" >9,500</text>
<text x="234.80" y="619.80" font-size="9.2" text-anchor="middle" fill="#1a1a1a" class="tb" >10,000</text>
<text x="91.30" y="634.40" font-size="9.2" text-anchor="middle" fill="#1a1a1a" class="tb" >4,000</text>
<text x="127.20" y="634.40" font-size="9.2" text-anchor="middle" fill="#1a1a1a" class="tb" >4,250</text>
<text x="163.10" y="634.40" font-size="9.2" text-anchor="middle" fill="#1a1a1a" class="tb" >4,500</text>
<text x="198.90" y="634.40" font-size="9.2" text-anchor="middle" fill="#1a1a1a" class="tb" >4,750</text>
<text x="234.80" y="634.40" font-size="9.2" text-anchor="middle" fill="#1a1a1a" class="tb" >5,000</text>
<rect x="5.0" y="636.85" width="247.6" height="1.9" fill="#333"/>
<rect x="5.0" y="653.10" width="247.6" height="1.2" fill="#6a6a6a"/>
<text x="39.50" y="650.30" font-size="9.2" text-anchor="middle" fill="#1a1a1a" class="tb" >Flow rates</text>
<text x="39.50" y="666.10" font-size="9.45" text-anchor="middle" fill="#1a1a1a" class="tb" >Oil (µL/h)</text>
<text x="39.50" y="680.70" font-size="9.45" text-anchor="middle" fill="#1a1a1a" class="tb" >Water (µL/h)</text>
<text x="91.30" y="650.30" font-size="9.2" text-anchor="middle" fill="#1a1a1a" class="tb" >L21</text>
<text x="127.20" y="650.30" font-size="9.2" text-anchor="middle" fill="#1a1a1a" class="tb" >L22</text>
<text x="163.10" y="650.30" font-size="9.2" text-anchor="middle" fill="#1a1a1a" class="tb" >L23</text>
<text x="198.90" y="650.30" font-size="9.2" text-anchor="middle" fill="#1a1a1a" class="tb" >L24</text>
<text x="234.80" y="650.30" font-size="9.2" text-anchor="middle" fill="#1a1a1a" class="tb" >L25</text>
<text x="91.30" y="666.10" font-size="9.2" text-anchor="middle" fill="#1a1a1a" class="tb" >11,000</text>
<text x="127.20" y="666.10" font-size="9.2" text-anchor="middle" fill="#1a1a1a" class="tb" >12,000</text>
<text x="163.10" y="666.10" font-size="9.2" text-anchor="middle" fill="#1a1a1a" class="tb" >13,000</text>
<text x="198.90" y="666.10" font-size="9.2" text-anchor="middle" fill="#1a1a1a" class="tb" >14,000</text>
<text x="234.80" y="666.10" font-size="9.2" text-anchor="middle" fill="#1a1a1a" class="tb" >15,000</text>
<text x="91.30" y="680.70" font-size="9.2" text-anchor="middle" fill="#1a1a1a" class="tb" >5,500</text>
<text x="127.20" y="680.70" font-size="9.2" text-anchor="middle" fill="#1a1a1a" class="tb" >6,000</text>
<text x="163.10" y="680.70" font-size="9.2" text-anchor="middle" fill="#1a1a1a" class="tb" >6,500</text>
<text x="198.90" y="680.70" font-size="9.2" text-anchor="middle" fill="#1a1a1a" class="tb" >7,000</text>
<text x="234.80" y="680.70" font-size="9.2" text-anchor="middle" fill="#1a1a1a" class="tb" >7,500</text>
<rect x="5.0" y="683.10" width="247.6" height="2.0" fill="#222"/>
<rect x="282.8" y="451.65" width="246.8" height="1.9" fill="#333"/>
<rect x="282.8" y="467.90" width="246.8" height="1.2" fill="#6a6a6a"/>
<text x="318.90" y="465.10" font-size="9.2" text-anchor="middle" fill="#1a1a1a" class="tb" >Flow rates</text>
<text x="318.90" y="480.90" font-size="9.45" text-anchor="middle" fill="#1a1a1a" class="tb" >Oil (µL/h)</text>
<text x="318.90" y="495.50" font-size="9.45" text-anchor="middle" fill="#1a1a1a" class="tb" >Water (µL/h)</text>
<text x="372.50" y="465.10" font-size="9.2" text-anchor="middle" fill="#1a1a1a" class="tb" >R1</text>
<text x="407.50" y="465.10" font-size="9.2" text-anchor="middle" fill="#1a1a1a" class="tb" >R2</text>
<text x="442.70" y="465.10" font-size="9.2" text-anchor="middle" fill="#1a1a1a" class="tb" >R3</text>
<text x="477.70" y="465.10" font-size="9.2" text-anchor="middle" fill="#1a1a1a" class="tb" >R4</text>
<text x="512.70" y="465.10" font-size="9.2" text-anchor="middle" fill="#1a1a1a" class="tb" >R5</text>
<text x="372.50" y="480.90" font-size="9.2" text-anchor="middle" fill="#1a1a1a" class="tb" >600</text>
<text x="407.50" y="480.90" font-size="9.2" text-anchor="middle" fill="#1a1a1a" class="tb" >720</text>
<text x="442.70" y="480.90" font-size="9.2" text-anchor="middle" fill="#1a1a1a" class="tb" >750</text>
<text x="477.70" y="480.90" font-size="9.2" text-anchor="middle" fill="#1a1a1a" class="tb" >800</text>
<text x="512.70" y="480.90" font-size="9.2" text-anchor="middle" fill="#1a1a1a" class="tb" >900</text>
<text x="372.50" y="495.50" font-size="9.2" text-anchor="middle" fill="#1a1a1a" font-weight="bold" class="tb" >600</text>
<text x="407.50" y="495.50" font-size="9.2" text-anchor="middle" fill="#1a1a1a" font-weight="bold" class="tb" >600</text>
<text x="442.70" y="495.50" font-size="9.2" text-anchor="middle" fill="#1a1a1a" font-weight="bold" class="tb" >600</text>
<text x="477.70" y="495.50" font-size="9.2" text-anchor="middle" fill="#1a1a1a" font-weight="bold" class="tb" >600</text>
<text x="512.70" y="495.50" font-size="9.2" text-anchor="middle" fill="#1a1a1a" font-weight="bold" class="tb" >600</text>
<rect x="282.8" y="497.95" width="246.8" height="1.9" fill="#333"/>
<rect x="282.8" y="514.20" width="246.8" height="1.2" fill="#6a6a6a"/>
<text x="318.90" y="511.40" font-size="9.2" text-anchor="middle" fill="#1a1a1a" class="tb" >Flow rates</text>
<text x="318.90" y="527.20" font-size="9.45" text-anchor="middle" fill="#1a1a1a" class="tb" >Oil (µL/h)</text>
<text x="318.90" y="541.80" font-size="9.45" text-anchor="middle" fill="#1a1a1a" class="tb" >Water (µL/h)</text>
<text x="372.50" y="511.40" font-size="9.2" text-anchor="middle" fill="#1a1a1a" class="tb" >R6</text>
<text x="407.50" y="511.40" font-size="9.2" text-anchor="middle" fill="#1a1a1a" class="tb" >R7<tspan font-size="6" dy="-3.5" style="stroke:none">*</tspan></text>
<text x="372.50" y="527.20" font-size="9.2" text-anchor="middle" fill="#1a1a1a" class="tb" >1,000</text>
<text x="407.50" y="527.20" font-size="9.2" text-anchor="middle" fill="#1a1a1a" class="tb" >1,200</text>
<text x="372.50" y="541.80" font-size="9.2" text-anchor="middle" fill="#1a1a1a" font-weight="bold" class="tb" >600</text>
<text x="407.50" y="541.80" font-size="9.2" text-anchor="middle" fill="#1a1a1a" font-weight="bold" class="tb" >600</text>
<rect x="282.8" y="544.25" width="246.8" height="1.9" fill="#333"/>
<rect x="282.8" y="560.50" width="246.8" height="1.2" fill="#6a6a6a"/>
<text x="318.90" y="557.70" font-size="9.2" text-anchor="middle" fill="#1a1a1a" class="tb" >Flow rates</text>
<text x="318.90" y="573.50" font-size="9.45" text-anchor="middle" fill="#1a1a1a" class="tb" >Oil (µL/h)</text>
<text x="318.90" y="588.10" font-size="9.45" text-anchor="middle" fill="#1a1a1a" class="tb" >Water (µL/h)</text>
<text x="372.50" y="557.70" font-size="9.2" text-anchor="middle" fill="#1a1a1a" class="tb" >R8</text>
<text x="407.50" y="557.70" font-size="9.2" text-anchor="middle" fill="#1a1a1a" class="tb" >R9</text>
<text x="442.70" y="557.70" font-size="9.2" text-anchor="middle" fill="#1a1a1a" class="tb" >R10</text>
<text x="477.70" y="557.70" font-size="9.2" text-anchor="middle" fill="#1a1a1a" class="tb" >R11</text>
<text x="512.70" y="557.70" font-size="9.2" text-anchor="middle" fill="#1a1a1a" class="tb" >R12</text>
<text x="372.50" y="573.50" font-size="9.2" text-anchor="middle" fill="#1a1a1a" font-weight="bold" class="tb" >12,000</text>
<text x="407.50" y="573.50" font-size="9.2" text-anchor="middle" fill="#1a1a1a" font-weight="bold" class="tb" >12,000</text>
<text x="442.70" y="573.50" font-size="9.2" text-anchor="middle" fill="#1a1a1a" font-weight="bold" class="tb" >12,000</text>
<text x="477.70" y="573.50" font-size="9.2" text-anchor="middle" fill="#1a1a1a" font-weight="bold" class="tb" >12,000</text>
<text x="512.70" y="573.50" font-size="9.2" text-anchor="middle" fill="#1a1a1a" font-weight="bold" class="tb" >12,000</text>
<text x="372.50" y="588.10" font-size="9.2" text-anchor="middle" fill="#1a1a1a" class="tb" >1,200</text>
<text x="407.50" y="588.10" font-size="9.2" text-anchor="middle" fill="#1a1a1a" class="tb" >2,000</text>
<text x="442.70" y="588.10" font-size="9.2" text-anchor="middle" fill="#1a1a1a" class="tb" >2,400</text>
<text x="477.70" y="588.10" font-size="9.2" text-anchor="middle" fill="#1a1a1a" class="tb" >3,000</text>
<text x="512.70" y="588.10" font-size="9.2" text-anchor="middle" fill="#1a1a1a" class="tb" >4,000</text>
<rect x="282.8" y="590.55" width="246.8" height="1.9" fill="#333"/>
<rect x="282.8" y="606.80" width="246.8" height="1.2" fill="#6a6a6a"/>
<text x="318.90" y="604.00" font-size="9.2" text-anchor="middle" fill="#1a1a1a" class="tb" >Flow rates</text>
<text x="318.90" y="619.80" font-size="9.45" text-anchor="middle" fill="#1a1a1a" class="tb" >Oil (µL/h)</text>
<text x="318.90" y="634.40" font-size="9.45" text-anchor="middle" fill="#1a1a1a" class="tb" >Water (µL/h)</text>
<text x="372.50" y="604.00" font-size="9.2" text-anchor="middle" fill="#1a1a1a" class="tb" >R13</text>
<text x="407.50" y="604.00" font-size="9.2" text-anchor="middle" fill="#1a1a1a" class="tb" >R14<tspan font-size="5.8" dy="-3.5" style="stroke:none">#</tspan></text>
<text x="372.50" y="619.80" font-size="9.2" text-anchor="middle" fill="#1a1a1a" font-weight="bold" class="tb" >12,000</text>
<text x="407.50" y="619.80" font-size="9.2" text-anchor="middle" fill="#1a1a1a" font-weight="bold" class="tb" >12,000</text>
<text x="372.50" y="634.40" font-size="9.2" text-anchor="middle" fill="#1a1a1a" class="tb" >4,800</text>
<text x="407.50" y="634.40" font-size="9.2" text-anchor="middle" fill="#1a1a1a" class="tb" >6,000</text>
<rect x="282.8" y="636.80" width="246.8" height="2.0" fill="#222"/>
<text x="285.8" y="646.4" font-size="6" fill="#1a1a1a" style="stroke:none">*</text>
<text x="292.60" y="649.90" font-size="9.2" text-anchor="start" fill="#1a1a1a" class="tb" >R7 &amp; L2 correspond to the same experiment.</text>
<text x="285.6" y="660.0" font-size="5.8" fill="#1a1a1a" style="stroke:none">#</text>
<text x="292.60" y="663.90" font-size="9.2" text-anchor="start" fill="#1a1a1a" class="tb" >R14 &amp; L22 correspond to the same experiment.</text>
</svg>
</body></html>
